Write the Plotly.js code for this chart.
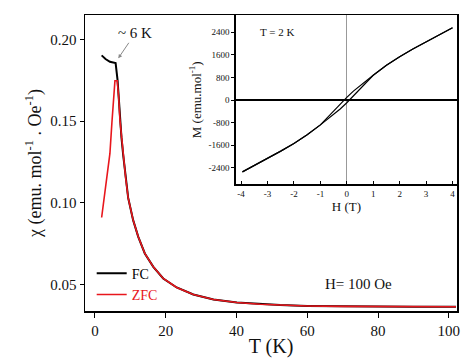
<!DOCTYPE html>
<html>
<head>
<meta charset="utf-8">
<script src="https://cdn.plot.ly/plotly-3.0.1.min.js"></script>
<style>html,body{margin:0;padding:0;background:#fff;}#chart{width:474px;height:358px;}</style>
</head>
<body>
<div id="chart"></div>
<script>
// Main panel: susceptibility vs temperature
const fcT   = [1.9, 3.0, 4.24, 5.0, 5.85, 6.4, 7.07, 7.5, 8.0, 8.7, 9.4, 10.8, 12.25, 14.1, 16.5, 19.3, 23.1, 27.8, 33.5, 40.1, 46.7, 52.3, 60, 70, 80, 90, 102];
const fcChi = [0.1902, 0.1880, 0.1863, 0.1860, 0.1855, 0.175, 0.1507, 0.140, 0.129, 0.115, 0.103, 0.0894, 0.0792, 0.069, 0.0608, 0.0537, 0.0482, 0.0439, 0.0408, 0.039, 0.0379, 0.0374, 0.0369, 0.0366, 0.0365, 0.0364, 0.0364];
const zfcT   = [1.9, 2.4, 3.0, 3.5, 4.24, 4.8, 5.25, 5.66, 6.3, 6.7, 7.07, 7.5, 8.0, 8.7, 9.4, 10.8, 12.25, 14.1, 16.5, 19.3, 23.1, 27.8, 33.5, 40.1, 46.7, 52.3, 60, 70, 80, 90, 102];
const zfcChi = [0.0910, 0.0995, 0.1080, 0.1160, 0.1302, 0.1490, 0.1630, 0.1747, 0.1747, 0.165, 0.1507, 0.140, 0.129, 0.115, 0.103, 0.0894, 0.0792, 0.069, 0.0608, 0.0537, 0.0482, 0.0439, 0.0408, 0.039, 0.0379, 0.0374, 0.0369, 0.0366, 0.0365, 0.0364, 0.0364];

// Inset: M(H) hysteresis at 2 K
const hDown = [4, 3.5, 3, 2.5, 2, 1.5, 1, 0.8, 0.5, 0.25, 0, -0.25, -0.5, -0.8, -1, -1.5, -2, -2.5, -3, -3.5, -3.95];
const mDown = [2565, 2320, 2068, 1810, 1537, 1230, 880, 730, 510, 315, 95, -145, -390, -710, -880, -1230, -1537, -1810, -2068, -2320, -2545];
const hUp   = [-3.95, -3.5, -3, -2.5, -2, -1.5, -1, -0.8, -0.5, -0.25, 0, 0.25, 0.5, 0.8, 1, 1.5, 2, 2.5, 3, 3.5, 4];
const mUp   = [-2545, -2320, -2068, -1810, -1537, -1230, -880, -730, -510, -315, -95, 145, 390, 710, 880, 1230, 1537, 1810, 2068, 2320, 2565];

// Tick labels
const mainXTicks = [0, 20, 40, 60, 80, 100];
const mainYTicks = [0.05, 0.10, 0.15, 0.20];
const mainYText  = ['0.05', '0.10', '0.15', '0.20'];
const insetXTicks = [-4, -3, -2, -1, 0, 1, 2, 3, 4];
const insetXText  = ['-4', '-3', '-2', '-1', '0', '1', '2', '3', '4'];
const insetYTicks = [-2400, -1600, -800, 0, 800, 1600, 2400];
const insetYText  = ['-2400', '-1600', '-800', '0', '800', '1600', '2400'];

const FONT = 'Liberation Serif';
const RED = '#e8161c';

const traces = [
  {x: fcT, y: fcChi, type: 'scatter', mode: 'lines', name: 'FC',
   line: {color: '#000', width: 2}, xaxis: 'x', yaxis: 'y'},
  {x: zfcT, y: zfcChi, type: 'scatter', mode: 'lines', name: '<span style="color:' + RED + '">ZFC</span>',
   line: {color: RED, width: 1.6}, xaxis: 'x', yaxis: 'y'},
  {x: hDown, y: mDown, type: 'scatter', mode: 'lines', showlegend: false,
   line: {color: '#000', width: 1.2}, xaxis: 'x2', yaxis: 'y2'},
  {x: hUp, y: mUp, type: 'scatter', mode: 'lines', showlegend: false,
   line: {color: '#000', width: 1.2}, xaxis: 'x2', yaxis: 'y2'}
];

const axisCommon = {showgrid: false, zeroline: false, showline: true, linecolor: '#000', linewidth: 1.5,
  tickcolor: '#000', mirror: true};

const layout = {
  width: 474, height: 358,
  margin: {l: 85, r: 17, t: 15, b: 47},
  paper_bgcolor: '#fff', plot_bgcolor: '#fff',
  font: {family: FONT, color: '#111'},
  showlegend: true,
  legend: {x: 0.018, y: 0.18, xanchor: 'left', yanchor: 'top', bgcolor: 'rgba(0,0,0,0)',
           font: {family: FONT, size: 14, color: '#000'}, tracegroupgap: 0},
  xaxis: Object.assign({}, axisCommon, {
    domain: [0, 1], range: [-2.8, 102.3], tickvals: mainXTicks, ticks: 'outside', ticklen: 5,
    tickfont: {size: 15, family: FONT}, title: {text: 'T (K)', font: {size: 20, family: FONT}, standoff: 6}
  }),
  yaxis: Object.assign({}, axisCommon, {
    domain: [0, 1], range: [0.0338, 0.2149], tickvals: mainYTicks, ticktext: mainYText, ticks: 'outside', ticklen: 4,
    tickfont: {size: 15, family: FONT},
    title: {text: 'χ (emu. mol<sup>-1</sup> . Oe<sup>-1</sup>)', font: {size: 18, family: FONT}, standoff: 4}
  }),
  xaxis2: Object.assign({}, axisCommon, {
    domain: [0.4054, 1], anchor: 'y2', range: [-4.2, 4.17], tickvals: insetXTicks, ticktext: insetXText,
    ticks: 'inside', ticklen: 3, tickfont: {size: 9, family: FONT},
    zeroline: true, zerolinecolor: '#999', zerolinewidth: 1,
    title: {text: 'H (T)', font: {size: 13, family: FONT}, standoff: 2}
  }),
  yaxis2: Object.assign({}, axisCommon, {
    domain: [0.4275, 1], anchor: 'x2', range: [-2992, 3014], tickvals: insetYTicks, ticktext: insetYText,
    ticks: 'outside', ticklen: 3, tickfont: {size: 9, family: FONT},
    zeroline: true, zerolinecolor: '#000', zerolinewidth: 1.5,
    title: {text: 'M (emu.mol<sup>-1</sup>)', font: {size: 13, family: FONT}, standoff: 4}
  }),
  annotations: [
    {xref: 'x', yref: 'y', x: 6.6, y: 0.1884, text: '~ 6 K', showarrow: true, arrowhead: 2, arrowsize: 0.8,
     arrowwidth: 1, arrowcolor: '#888', ax: 17, ay: -25, font: {size: 15, family: FONT, color: '#111'}},
    {xref: 'x', yref: 'y', x: 74.5, y: 0.0506, text: 'H= 100 Oe', showarrow: false,
     font: {size: 15, family: FONT, color: '#111'}},
    {xref: 'x2', yref: 'y2', x: -2.65, y: 2420, text: 'T = 2 K', showarrow: false,
     font: {size: 11, family: FONT, color: '#111'}}
  ]
};

Plotly.newPlot('chart', traces, layout, {displayModeBar: false, staticPlot: true});
</script>
</body>
</html>
